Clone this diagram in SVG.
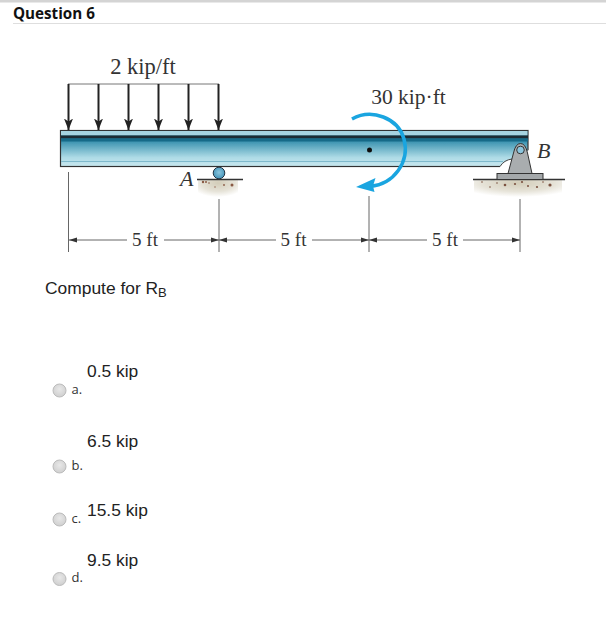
<svg xmlns="http://www.w3.org/2000/svg" width="606" height="622" viewBox="0 0 606 622">
<defs>
<linearGradient id="web" x1="0" y1="0" x2="0" y2="1">
<stop offset="0" stop-color="#14617f"/><stop offset="0.3" stop-color="#3b93b0"/><stop offset="0.75" stop-color="#aedbe6"/><stop offset="1" stop-color="#c9e8ef"/>
</linearGradient>
<radialGradient id="ground" cx="0.5" cy="0.15" r="0.7"><stop offset="0" stop-color="#d3cdb9"/><stop offset="0.6" stop-color="#e6e3d8"/><stop offset="1" stop-color="#ffffff"/></radialGradient>
<radialGradient id="ball" cx="0.5" cy="0.45" r="0.6"><stop offset="0" stop-color="#8cc6de"/><stop offset="1" stop-color="#3d8fb5"/></radialGradient>
<radialGradient id="radio" cx="0.5" cy="0.4" r="0.6"><stop offset="0" stop-color="#e8e8e8"/><stop offset="1" stop-color="#cfcfcf"/></radialGradient>
<filter id="soft" x="-5%" y="-5%" width="110%" height="110%"><feGaussianBlur stdDeviation="0.45"/></filter>
<marker id="head" markerUnits="userSpaceOnUse" markerWidth="12" markerHeight="10" refX="11.500" refY="5" orient="auto"><path d="M0 .5 L11.500 5 L0 9.500 L3 5 Z" fill="#222"/></marker>
<marker id="dim" markerUnits="userSpaceOnUse" markerWidth="9" markerHeight="6" refX="8" refY="3" orient="auto"><path d="M0 .5 L8 3 L0 5.500 Z" fill="#333"/></marker>
</defs>
<style>
.ser{font-family:"Liberation Serif","Times New Roman",serif;fill:#333}
.opt{font-family:"Liberation Sans",Arial,sans-serif;font-size:17.400px;fill:#222}
.lbl{font-family:"Open Sans","Noto Sans",sans-serif;font-size:13px;fill:#333}
.load{stroke:#222;stroke-width:2;fill:none;marker-end:url(#head)}
.thin{stroke:#777;stroke-width:1;fill:none}
.dimline{stroke:#666;stroke-width:1;fill:none}
.radio{fill:url(#radio);stroke:#bbb;stroke-width:1}
</style>
<g id="header">
<rect x="0" y="0" width="606" height="2.500" fill="#d4d4d4"/>
<line x1="13" y1="23.500" x2="606" y2="23.500" stroke="#dedede"/>
<text x="13" y="19" font-family="'Open Sans','Noto Sans',sans-serif" font-size="15.200" font-weight="700" fill="#111">Question 6</text>
</g>
<g id="beam" filter="url(#soft)">
<rect x="60.500" y="130.500" width="467.500" height="36" fill="url(#web)" stroke="#333" stroke-width="1.200"/>
<rect x="61" y="131" width="466.500" height="4.500" fill="#a6d3e0"/>
<rect x="61" y="135.500" width="467" height="3" fill="#1c2a30"/>
<rect x="61" y="138.500" width="467" height="3" fill="#196a88"/>
<line x1="61" y1="161.500" x2="503" y2="161.500" stroke="#7fb9cc" stroke-width="1"/>
<path d="M500 166.500 Q504 160 512 159 L529 150 L529 168 L500 168 Z" fill="#fff"/>
<path d="M500 166.500 Q504 160 512 159" fill="none" stroke="#444" stroke-width="1"/>
<circle cx="369.500" cy="150" r="2.500" fill="#111"/>
</g>
<g id="load">
<line class="thin" x1="68" y1="84" x2="219" y2="84"/>
<line class="load" x1="68.500" y1="84" x2="68.500" y2="130"/>
<line class="load" x1="98.500" y1="84" x2="98.500" y2="130"/>
<line class="load" x1="128.500" y1="84" x2="128.500" y2="130"/>
<line class="load" x1="158.500" y1="84" x2="158.500" y2="130"/>
<line class="load" x1="188.500" y1="84" x2="188.500" y2="130"/>
<line class="load" x1="218.500" y1="84" x2="218.500" y2="130"/>
<text class="ser" x="143" y="74" font-size="22.500" text-anchor="middle">2 kip/ft</text>
</g>
<g id="support-a">
<rect x="198" y="180" width="40" height="20" fill="url(#ground)" filter="url(#soft)"/>
<line x1="197" y1="179.500" x2="243" y2="179.500" stroke="#333" stroke-width="1.400"/>
<circle cx="219" cy="173" r="5.800" fill="url(#ball)" stroke="#234" stroke-width="1"/>
<g fill="#8a5a45"><circle cx="203" cy="182" r="1.200"/><circle cx="232" cy="185" r="1.500"/><circle cx="224" cy="185" r="0.900"/><circle cx="209" cy="183" r="0.800"/><circle cx="206" cy="182" r="1"/><circle cx="215" cy="187" r="0.700"/></g>
<text class="ser" x="180" y="186" font-size="22" font-style="italic">A</text>
</g>
<g id="support-b">
<rect x="474" y="180" width="88" height="20" fill="url(#ground)" filter="url(#soft)"/>
<line x1="473" y1="179.500" x2="565" y2="179.500" stroke="#333" stroke-width="1.400"/>
<rect x="497" y="173.500" width="46" height="6" fill="#a4a8aa" stroke="#333" stroke-width="1"/>
<path d="M508 173.500 L513.500 153 Q515.500 143.500 520.500 143.500 Q525.500 143.500 527.500 153 L532 173.500 Z" fill="#a9adaf" stroke="#333" stroke-width="1"/>
<circle cx="520.500" cy="150" r="3.800" fill="#8cc6de" stroke="#333" stroke-width="1"/>
<g fill="#7c5240"><circle cx="505" cy="185" r="1.300"/><circle cx="515" cy="184" r="1.100"/><circle cx="522" cy="182" r="1.100"/><circle cx="550" cy="185" r="1.600"/><circle cx="537" cy="187" r="1.100"/><circle cx="482" cy="182" r="0.800"/><circle cx="490" cy="187" r="0.800"/><circle cx="528" cy="186" r="1"/><circle cx="543" cy="182" r="0.800"/><circle cx="497" cy="183" r="0.800"/></g>
<text class="ser" x="537" y="157.500" font-size="22" font-style="italic">B</text>
</g>
<g id="moment">
<path d="M352 119 C372 108 398 118 404 139 C410 162 394 184 370 186.500" fill="none" stroke="#1aa5e0" stroke-width="3.500"/>
<path d="M356 187 L375.500 178 L373 186 L374.500 192 Z" fill="#1aa5e0"/>
<text class="ser" x="408.500" y="104" font-size="21.500" text-anchor="middle">30 kip·ft</text>
</g>
<g id="connectors">
<line class="dimline" x1="68.500" y1="172" x2="68.500" y2="252"/>
<line class="dimline" x1="219" y1="199" x2="219" y2="252"/>
<line class="dimline" x1="369" y1="196" x2="369" y2="252"/>
<line class="dimline" x1="520" y1="199" x2="520" y2="252"/>
<line class="dimline" x1="127" y1="240" x2="69" y2="240" marker-end="url(#dim)"/>
<line class="dimline" x1="164" y1="240" x2="219" y2="240" marker-end="url(#dim)"/>
<line class="dimline" x1="276" y1="240" x2="219" y2="240" marker-end="url(#dim)"/>
<line class="dimline" x1="312" y1="240" x2="369" y2="240" marker-end="url(#dim)"/>
<line class="dimline" x1="427" y1="240" x2="369" y2="240" marker-end="url(#dim)"/>
<line class="dimline" x1="463" y1="240" x2="520" y2="240" marker-end="url(#dim)"/>
</g>
<g id="dimension-labels">
<text class="ser" x="145" y="246" font-size="19" text-anchor="middle">5 ft</text>
<text class="ser" x="293.500" y="246" font-size="19" text-anchor="middle">5 ft</text>
<text class="ser" x="445" y="246" font-size="19" text-anchor="middle">5 ft</text>
</g>
<g id="prompt">
<text class="opt" x="45" y="294">Compute for R<tspan font-size="13" dy="3">B</tspan></text>
</g>
<g id="option-a">
<circle class="radio" cx="59.500" cy="390.500" r="6.500"/>
<text class="lbl" x="71.500" y="394">a.</text>
<text class="opt" x="87" y="377">0.5 kip</text>
</g>
<g id="option-b">
<circle class="radio" cx="59.500" cy="466.500" r="6.500"/>
<text class="lbl" x="71.500" y="470">b.</text>
<text class="opt" x="87" y="447">6.5 kip</text>
</g>
<g id="option-c">
<circle class="radio" cx="59.500" cy="519.500" r="6.500"/>
<text class="lbl" x="71.500" y="523">c.</text>
<text class="opt" x="87" y="516">15.5 kip</text>
</g>
<g id="option-d">
<circle class="radio" cx="59.500" cy="579" r="6.500"/>
<text class="lbl" x="71.500" y="582">d.</text>
<text class="opt" x="87" y="566">9.5 kip</text>
</g>
</svg>
